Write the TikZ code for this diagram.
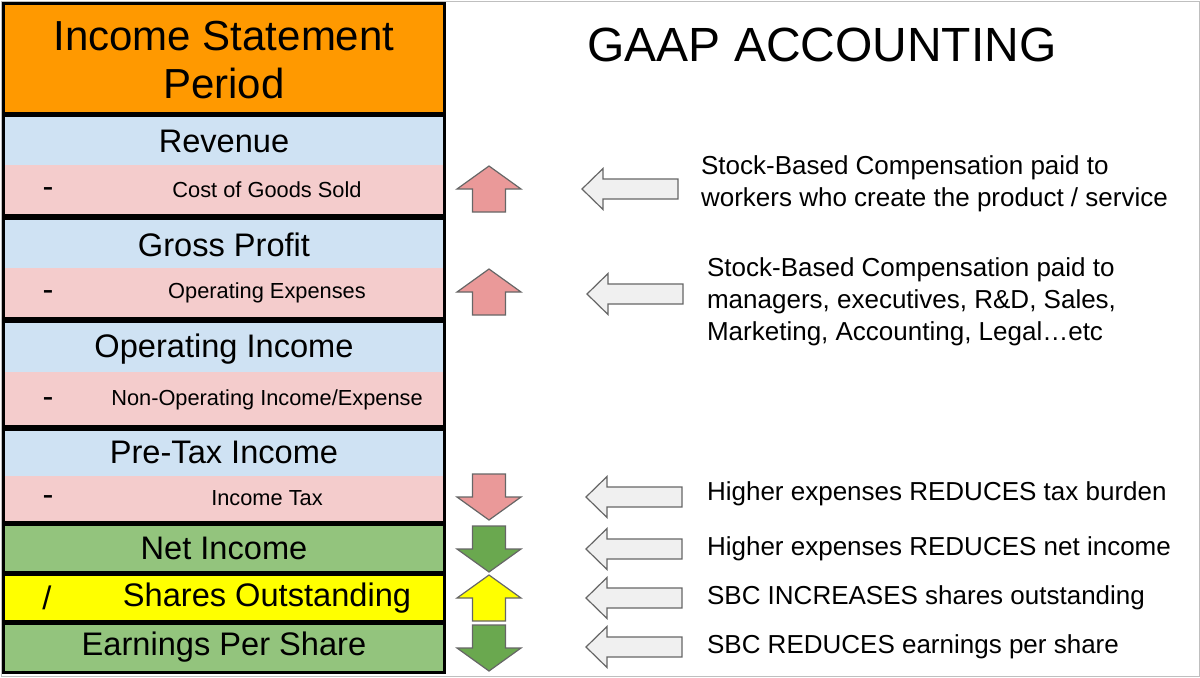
\documentclass[tikz,border=0pt]{standalone}
\usepackage{fontspec}
\setmainfont{Liberation Sans}
\begin{document}
\begin{tikzpicture}[x=0.5pt,y=-0.5pt,
  grp/.style={draw=black,line width=1.5pt},
  arr/.style={draw=black!60,line width=0.6pt},
  head/.style={font=\fontsize{16.3}{18}\selectfont},
  sub/.style={font=\fontsize{10.9}{12}\selectfont},
  rt/.style={font=\fontsize{13}{16}\selectfont,align=left,anchor=west},
  uparrow/.pic={\path[arr,pic actions] (-32,0)--(0,-23)--(32,0)--(16.5,0)--(16.5,23)--(-16.5,23)--(-16.5,0)--cycle;},
  downarrow/.pic={\path[arr,pic actions] (-32,0)--(0,23)--(32,0)--(16.5,0)--(16.5,-23)--(-16.5,-23)--(-16.5,0)--cycle;},
  leftarrow/.pic={\path[arr,fill=black!6] (-48,0)--(-27,-20.5)--(-27,-10)--(48,-10)--(48,10)--(-27,10)--(-27,20.5)--cycle;}]
\definecolor{og}{HTML}{FF9900}\definecolor{bl}{HTML}{CFE2F3}\definecolor{pk}{HTML}{F4CCCC}
\definecolor{gr}{HTML}{93C47D}\definecolor{ye}{HTML}{FFFF00}\definecolor{ap}{HTML}{EA9999}\definecolor{dg}{HTML}{6AA84F}
\useasboundingbox (0,0) rectangle (1200,677);
\draw[black!25,line width=0.5pt] (1,1) rectangle (1199,676);
% fills
\fill[og] (3,3) rectangle (444,113);
\fill[bl] (3,115) rectangle (444,165); \fill[pk] (3,165) rectangle (444,215);
\fill[bl] (3,218) rectangle (444,268); \fill[pk] (3,268) rectangle (444,318);
\fill[bl] (3,321) rectangle (444,372); \fill[pk] (3,372) rectangle (444,426);
\fill[bl] (3,429) rectangle (444,476); \fill[pk] (3,476) rectangle (444,522);
\fill[gr] (3,524) rectangle (444,572); \fill[ye] (3,574) rectangle (444,621); \fill[gr] (3,623) rectangle (444,672);
\foreach \a/\b in {3/113,115/215,218/318,321/426,429/522,524/572,574/621,623/672}
  \draw[grp] (3,\a) rectangle (444,\b);
% texts
\node[align=center,font=\fontsize{21}{24}\selectfont] (hd) at (224,60) {Income Statement\\Period};
\node[font=\fontsize{24}{26}\selectfont] (ti) at (822,45) {GAAP ACCOUNTING};
\node[head] (rev) at (224,141) {Revenue};
\node[head] (gp) at (224,245) {Gross Profit};
\node[head] (oi) at (224,349) {Operating Income};
\node[head] (pt) at (224,452) {Pre-Tax Income};
\node[head] (ni) at (224,548) {Net Income};
\node[head] (so) at (267,598) {Shares Outstanding};
\node[head] (sl) at (47,598) {/};
\node[head] (eps) at (224,647) {Earnings Per Share};
\foreach \y/\t in {190/{Cost of Goods Sold},293/{Operating Expenses},400/{Non-Operating Income/Expense},498/{Income Tax}}{
  \node[sub] at (267,\y) {\t};
  \node[head] at (48,\y+3) {-};}
% arrows
\pic[fill=ap] at (489,189) {uparrow};
\pic[fill=ap] at (489,292) {uparrow};
\pic[fill=ap] at (489,497) {downarrow};
\pic[fill=dg] at (489,549) {downarrow};
\pic[fill=ye] at (489,598) {uparrow};
\pic[fill=dg] at (489,648) {downarrow};
\pic at (630,189) {leftarrow};
\pic at (635,294) {leftarrow};
\foreach \y in {497,549,598,647} \pic at (634,\y) {leftarrow};
\node[rt] (t1) at (694,184) {Stock-Based Compensation paid to\\workers who create the product / service};
\node[rt] (t2) at (700,302) {Stock-Based Compensation paid to\\managers, executives, R\&D, Sales,\\Marketing, Accounting, Legal\ldots etc};
\node[rt] (t3) at (700,494) {Higher expenses REDUCES tax burden};
\node[rt] (t4) at (700,549) {Higher expenses REDUCES net income};
\node[rt] (t5) at (700,598) {SBC INCREASES shares outstanding};
\node[rt] (t6) at (700,647) {SBC REDUCES earnings per share};
\end{tikzpicture}
\end{document}
